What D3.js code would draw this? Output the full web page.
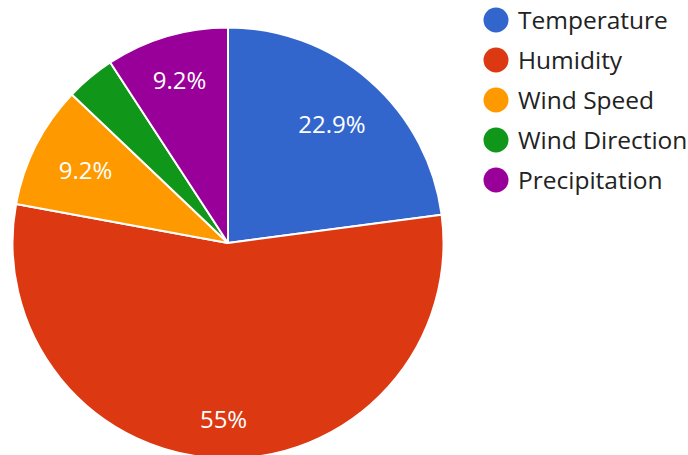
<!DOCTYPE html>
<html><head><meta charset="utf-8">
<script src="https://cdn.jsdelivr.net/npm/d3@7"></script>
<style>html,body{margin:0;padding:0;background:#fff;overflow:hidden}</style>
</head><body><svg id="c" width="688" height="455"></svg>
<script>
const categories = ["Temperature","Humidity","Wind Speed","Wind Direction","Precipitation"];
const values = [22.9, 55.0, 9.2, 3.7, 9.2];
const colors = ["#3366cc","#dc3912","#ff9900","#109618","#990099"];

const W = 688, H = 455, cx = 228, cy = 243, R = 215.5;
const font = "'Open Sans', 'Noto Sans', sans-serif";
const svg = d3.select("#c");
const data = categories.map((c,i)=>({name:c, value:values[i], color:colors[i]}));
const pie = d3.pie().sort(null).value(d=>d.value);
const arcs = pie(data);
const arc = d3.arc().innerRadius(0).outerRadius(R);
const total = d3.sum(values);
const fmt = v => { const p = v/total*100; return (Math.round(p*10)/10) + "%"; };

const g = svg.append("g").attr("transform",`translate(${cx},${cy})`);
g.selectAll("path").data(arcs).join("path")
  .attr("d", arc).attr("fill", d=>d.data.color)
  .attr("stroke","#fff").attr("stroke-width",2).attr("stroke-linejoin","round");

// label: along mid-angle, pushed out until the far corner of its box reaches 0.873R
const labelFs = 24, Rl = R*0.873;
g.selectAll("text").data(arcs.filter(d=>d.endAngle-d.startAngle > 0.4)).join("text")
  .attr("text-anchor","middle").attr("dy","0.36em")
  .attr("fill","#fff").style("font-family",font).style("font-size",labelFs+"px")
  .text(d=>fmt(d.data.value))
  .attr("transform", function(d){
    const a = (d.startAngle+d.endAngle)/2;
    const sx = Math.sin(a), sy = -Math.cos(a);
    const w = this.getComputedTextLength(), h = labelFs*0.8;
    const b = Math.abs(sx)*w + Math.abs(sy)*h;
    const c = (w*w + h*h)/4 - Rl*Rl;
    const dist = (-b + Math.sqrt(b*b - 4*c))/2;
    return `translate(${dist*sx},${dist*sy})`;
  });

const lg = svg.append("g");
const item = lg.selectAll("g").data(data).join("g")
  .attr("transform",(d,i)=>`translate(496,${20+i*40})`);
item.append("circle").attr("r",12.5).attr("fill",d=>d.color);
item.append("text").attr("x",22).attr("dy","0.36em")
  .attr("fill","#222").style("font-family",font).style("font-size","24.5px")
  .text(d=>d.name);
</script></body></html>
